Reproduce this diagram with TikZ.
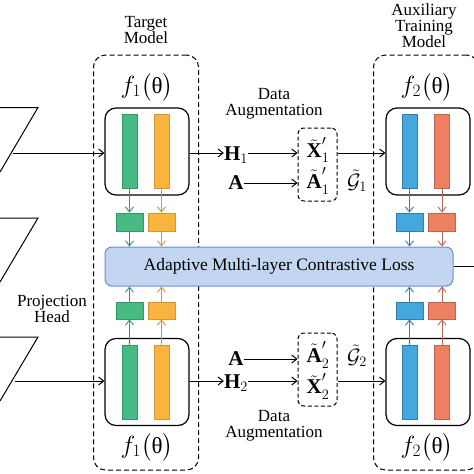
\documentclass[tikz,border=0pt]{standalone}
\usepackage{amsmath,amssymb}
\usepackage{fontspec}
\setmainfont{Liberation Serif}
\usepackage{tikz}
\usetikzlibrary{arrows.meta}
\definecolor{cgreen}{RGB}{72,186,132}
\definecolor{dgreen}{RGB}{50,150,105}
\definecolor{corange}{RGB}{248,180,62}
\definecolor{dorange}{RGB}{210,150,50}
\definecolor{cblue}{RGB}{66,168,222}
\definecolor{dblue}{RGB}{50,125,170}
\definecolor{cred}{RGB}{240,128,98}
\definecolor{dred}{RGB}{185,100,85}
\definecolor{lossfill}{RGB}{194,214,242}
\definecolor{lossdraw}{RGB}{110,140,200}

\begin{document}
\begin{tikzpicture}[x=1pt,y=-1pt,>={Straight Barb[length=5pt,width=8pt]},
  lbl/.style={font=\fontsize{17}{16}\selectfont,align=center,inner sep=0pt},
  mth/.style={font=\fontsize{21}{21}\selectfont,inner sep=0pt},
  fth/.style={font=\fontsize{23}{23}\selectfont,inner sep=0pt},
  group/.style={draw,dashed,dash pattern=on 5pt off 3pt,line width=1pt,rounded corners=12pt,inner sep=0pt},
  encoder/.style={draw,line width=1.2pt,rounded corners=11pt,minimum width=84pt,minimum height=87pt,inner sep=0pt},
  bar/.style={draw=#1,line width=0.8pt,minimum width=15pt,minimum height=74pt,inner sep=0pt},
  head/.style={draw=#1,line width=0.8pt,minimum width=27pt,minimum height=18pt,inner sep=0pt},
  aug/.style={draw,dashed,dash pattern=on 4pt off 2.5pt,line width=1pt,rounded corners=6pt,minimum width=39pt,minimum height=73pt,inner sep=0pt}]
\clip (0,0) rectangle (474,474);

% input graphs
\draw[line width=1pt] (-2,107.5) -- (38,107.5) -- (0,172);
\draw[line width=1pt] (-2,218) -- (38,218) -- (0,282);
\draw[line width=1pt] (-2,337) -- (38,337) -- (0,401);
\coordinate (g1) at (13,153);
\coordinate (g2) at (15,381);
\node[lbl] (proj) at (52,309) {Projection\\Head};

% dashed model groups
\node[group,minimum width=105pt,minimum height=415pt] (target) at (146,262.5) {};
\node[group,minimum width=105pt,minimum height=415pt] (aux) at (426,262.5) {};
\node[lbl] (targettxt) at (146,30) {Target\\Model};
\node[lbl] (auxtxt) at (424,26) {Auxiliary\\Training\\Model};

% encoders
\node[encoder] (enc1) at (147,151.5) {};
\node[encoder] (enc2) at (147,382) {};
\node[encoder] (enc3) at (428,151.5) {};
\node[encoder] (enc4) at (428,382) {};
\node[fth] (f1a) at (147,87) {$f_1\bigl(\text{θ}\bigr)$};
\node[fth] (f1b) at (147,447) {$f_1\bigl(\text{θ}\bigr)$};
\node[fth] (f2a) at (427,87) {$f_2\bigl(\text{θ}\bigr)$};
\node[fth] (f2b) at (427,447) {$f_2\bigl(\text{θ}\bigr)$};

% loss
\node[draw=lossdraw,fill=lossfill,line width=1pt,rounded corners=7pt,minimum width=348pt,minimum height=39pt,inner sep=0pt,font=\fontsize{17.5}{17}\selectfont] (loss) at (279,266.5) {Adaptive Multi-layer Contrastive Loss};
\coordinate (out) at (480,266.5);
\draw[line width=1pt] (loss.east) -- (out);

% bars and projection heads
\foreach \x/\c/\n in {129.5/green/a,161.5/orange/b,409.5/blue/c,442/red/d}{
  \node[bar=d\c,fill=c\c] (top\n) at (\x,151) {};
  \node[bar=d\c,fill=c\c] (bot\n) at (\x,382) {};
  \node[head=d\c,fill=c\c] (htop\n) at (\x,222) {};
  \node[head=d\c,fill=c\c,minimum height=17pt] (hbot\n) at (\x,310.5) {};
  \draw[->,d\c,line width=0.9pt] (top\n.south) -- (htop\n.north);
  \draw[->,d\c,line width=0.9pt] (htop\n.south) -- (htop\n.south |- loss.north);
  \draw[->,d\c,line width=0.9pt] (bot\n.north) -- (hbot\n.south);
  \draw[->,d\c,line width=0.9pt] (hbot\n.north) -- (hbot\n.north |- loss.south);
}

% inputs
\draw[->,line width=1pt] (g1) -- (g1 -| enc1.west);
\draw[->,line width=1pt] (g2) -- (g2 -| enc2.west);

% data augmentation, view 1
\node[mth] (h1) at (236,155) {$\textbf{H}_1$};
\node[mth] (a1) at (236,183) {$\textbf{A}$};
\node[aug] (v1) at (317.5,164.5) {};
\node[mth] (x1) at (318,150) {$\tilde{\textbf{X}}'_1$};
\node[mth] (at1) at (318,181) {$\tilde{\textbf{A}}'_1$};
\node[mth] (g1lbl) at (357,181) {$\tilde{\mathcal{G}}_1$};
\node[lbl] (aug1) at (274,104) {Data\\Augmentation};
\draw[->,line width=1pt] (enc1.east |- 0,153) -- (h1.west |- 0,153);
\draw[->,line width=1pt] (h1.east |- 0,153) -- (v1.west |- 0,153);
\draw[->,line width=1pt] (a1.east |- 0,183) -- (v1.west |- 0,183);
\draw[->,line width=1pt] (v1.east |- 0,153) -- (enc3.west |- 0,153);

% data augmentation, view 2
\node[mth] (a2) at (236,359) {$\textbf{A}$};
\node[mth] (h2) at (236,383) {$\textbf{H}_2$};
\node[aug] (v2) at (317.5,369.5) {};
\node[mth] (at2) at (318,355) {$\tilde{\textbf{A}}'_2$};
\node[mth] (x2) at (318,386) {$\tilde{\textbf{X}}'_2$};
\node[mth] (g2lbl) at (357,356) {$\tilde{\mathcal{G}}_2$};
\node[lbl] (aug2) at (274,426) {Data\\Augmentation};
\draw[->,line width=1pt] (enc2.east |- 0,381) -- (h2.west |- 0,381);
\draw[->,line width=1pt] (a2.east |- 0,359) -- (v2.west |- 0,359);
\draw[->,line width=1pt] (h2.east |- 0,381) -- (v2.west |- 0,381);
\draw[->,line width=1pt] (v2.east |- 0,381) -- (enc4.west |- 0,381);

\end{tikzpicture}
\end{document}
